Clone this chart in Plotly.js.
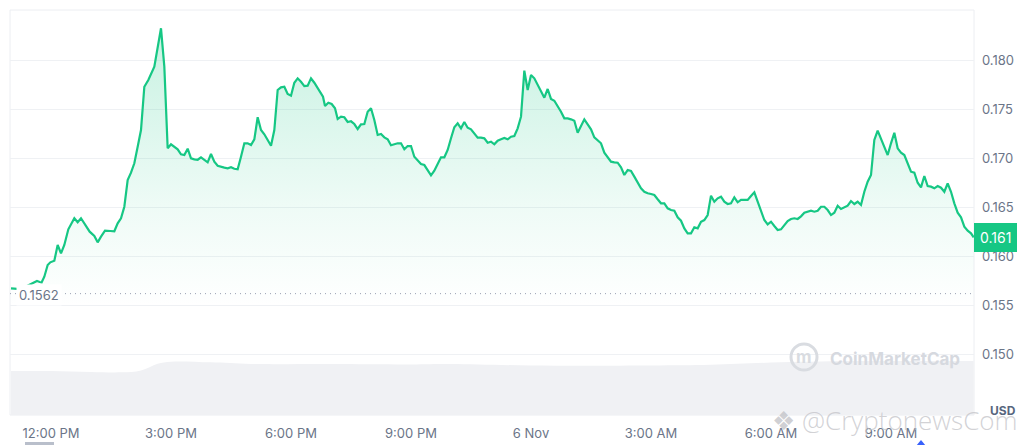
<!DOCTYPE html>
<html>
<head>
<meta charset="utf-8">
<script src="https://cdn.plot.ly/plotly-3.0.1.min.js"></script>
<style>
  html, body { margin: 0; padding: 0; background: #ffffff; }
  #chart { width: 1024px; height: 445px; }
</style>
</head>
<body>
<div id="chart"></div>
<script>
// ---- Data ----
const timesNov5 = ["11:00","11:14","11:24","11:33","11:39","11:43","11:46","11:50","11:55","11:59",
"12:05","12:10","12:15","12:20","12:26","12:35","12:40","12:45","12:51","12:58",
"13:05","13:10","13:15","13:21","13:29","13:35","13:40","13:45","13:50","13:55",
"14:00","14:05","14:10","14:15","14:20","14:26","14:35","14:45","14:50","14:55",
"15:00","15:05","15:10","15:15","15:20","15:25","15:30","15:35","15:40","15:45","15:50","15:55",
"16:00","16:05","16:10","16:15","16:20","16:25","16:30","16:35","16:40","16:45","16:50","16:55",
"17:00","17:05","17:10","17:15","17:20","17:25","17:30","17:35","17:40","17:45","17:50","17:55",
"18:00","18:05","18:10","18:15","18:20","18:25","18:30","18:35","18:40","18:45","18:48","18:51","18:56",
"19:01","19:06","19:10","19:15","19:20","19:25","19:30","19:35","19:40","19:45","19:50","19:55",
"20:00","20:05","20:10","20:15","20:20","20:25","20:30","20:35","20:40","20:45","20:50","20:55",
"21:00","21:05","21:10","21:15","21:20","21:25","21:30","21:35","21:40","21:45","21:50","21:55",
"22:00","22:05","22:10","22:15","22:20","22:25","22:30","22:35","22:40","22:45","22:50","22:55",
"23:00","23:05","23:10","23:15","23:20","23:25","23:30","23:35","23:40","23:45","23:50","23:55"];
const pricesNov5 = [0.15674,0.15667,0.15698,0.15729,0.15749,0.15739,0.15736,0.15793,0.15912,0.15940,
0.15956,0.16117,0.16032,0.16117,0.16277,0.16390,0.16349,0.16390,0.16331,0.16253,
0.16209,0.16144,0.16202,0.16263,0.16260,0.16257,0.16339,0.16390,0.16508,0.16781,
0.16856,0.16952,0.17121,0.17292,0.17734,0.17803,0.17939,0.18331,0.17939,0.17105,
0.17146,0.17121,0.17095,0.17044,0.17036,0.17101,0.17003,0.16992,0.16988,0.17013,0.16985,0.16962,
0.17047,0.16968,0.16927,0.16914,0.16907,0.16901,0.16911,0.16896,0.16890,0.17019,0.17156,0.17156,
0.17139,0.17197,0.17422,0.17292,0.17248,0.17190,0.17131,0.17292,0.17701,0.17728,0.17734,0.17660,
0.17642,0.17775,0.17820,0.17785,0.17741,0.17745,0.17820,0.17775,0.17718,0.17673,0.17632,0.17537,0.17571,
0.17558,0.17514,0.17404,0.17428,0.17422,0.17374,0.17381,0.17353,0.17302,0.17350,0.17353,0.17479,
0.17514,0.17394,0.17241,0.17251,0.17217,0.17197,0.17136,0.17149,0.17156,0.17156,0.17095,0.17128,
0.17128,0.17019,0.16978,0.16944,0.16934,0.16883,0.16829,0.16876,0.16944,0.17013,0.17013,0.17088,
0.17207,0.17320,0.17360,0.17309,0.17374,0.17315,0.17299,0.17251,0.17213,0.17213,0.17207,0.17162,
0.17172,0.17146,0.17183,0.17197,0.17210,0.17197,0.17223,0.17231,0.17309,0.17428,0.17898,0.17701];

const timesNov6 = ["00:00","00:05","00:10","00:15","00:20","00:25","00:30","00:35","00:40","00:45","00:50","00:55",
"01:00","01:05","01:10","01:15","01:20","01:25","01:30","01:35","01:40","01:45","01:50","01:55",
"02:00","02:05","02:10","02:15","02:20","02:25","02:30","02:35","02:40","02:45","02:50","02:55",
"03:00","03:05","03:10","03:15","03:20","03:25","03:30","03:35","03:40","03:45","03:50","03:55",
"04:00","04:05","04:10","04:15","04:20","04:25","04:30","04:35","04:40","04:45","04:50","04:55",
"05:00","05:05","05:10","05:15","05:20","05:25","05:30","05:35","05:40","05:45","05:50","05:55",
"06:00","06:05","06:10","06:15","06:20","06:25","06:30","06:35","06:40","06:45","06:50","06:55",
"07:00","07:05","07:10","07:15","07:20","07:25","07:30","07:35","07:40","07:45","07:50","07:55",
"08:00","08:05","08:10","08:15","08:20","08:25","08:30","08:35","08:40","08:45","08:50","08:55",
"09:00","09:05","09:10","09:15","09:20","09:25","09:30","09:35","09:40","09:45","09:50","09:55",
"10:00","10:05","10:10","10:15","10:20","10:25","10:30","10:35","10:40","10:45","10:50","10:55",
"11:00","11:04"];
const pricesNov6 = [0.17854,0.17820,0.17752,0.17683,0.17622,0.17711,0.17609,0.17591,0.17537,0.17479,0.17411,0.17411,
0.17401,0.17387,0.17264,0.17333,0.17401,0.17350,0.17299,0.17217,0.17183,0.17156,0.17060,0.17013,
0.16968,0.16962,0.16958,0.16911,0.16832,0.16883,0.16873,0.16815,0.16747,0.16696,0.16661,0.16645,
0.16638,0.16628,0.16584,0.16543,0.16543,0.16492,0.16474,0.16467,0.16400,0.16365,0.16287,0.16236,
0.16236,0.16298,0.16287,0.16355,0.16372,0.16423,0.16621,0.16559,0.16594,0.16610,0.16559,0.16536,
0.16543,0.16604,0.16553,0.16577,0.16577,0.16577,0.16618,0.16655,0.16559,0.16457,0.16372,0.16328,
0.16355,0.16311,0.16270,0.16277,0.16314,0.16362,0.16383,0.16390,0.16383,0.16410,0.16447,0.16457,
0.16467,0.16457,0.16467,0.16508,0.16508,0.16474,0.16423,0.16447,0.16518,0.16485,0.16498,0.16518,
0.16566,0.16536,0.16559,0.16526,0.16661,0.16764,0.16832,0.17190,0.17285,0.17207,0.17115,0.17036,
0.17156,0.17264,0.17105,0.17060,0.17036,0.16944,0.16866,0.16856,0.16753,0.16706,0.16822,0.16720,
0.16713,0.16696,0.16720,0.16702,0.16661,0.16747,0.16661,0.16543,0.16447,0.16400,0.16304,0.16263,
0.16236,0.16195];

const volumeTimes = ["2024-11-05 11:00","2024-11-05 12:00","2024-11-05 13:00","2024-11-05 13:45","2024-11-05 14:15",
"2024-11-05 14:40","2024-11-05 15:00","2024-11-05 16:00","2024-11-05 17:00","2024-11-05 19:00","2024-11-05 21:00",
"2024-11-05 22:00","2024-11-06 00:00","2024-11-06 03:00","2024-11-06 04:30","2024-11-06 06:00","2024-11-06 08:00",
"2024-11-06 10:00","2024-11-06 11:04"];
const volumeValues = [32.6,32.6,31.9,31.6,33.0,38.0,39.5,39.0,37.8,37.8,37.5,37.8,36.7,36.7,37.2,38.8,40.0,40.0,40.0];

const openPrice = 0.1562;
const yTickVals = [0.150,0.155,0.160,0.165,0.170,0.175,0.180];
const xTickVals = ["2024-11-05 12:00","2024-11-05 15:00","2024-11-05 18:00","2024-11-05 21:00",
                   "2024-11-06 00:00","2024-11-06 03:00","2024-11-06 06:00","2024-11-06 09:00"];
const xTickText = ["12:00 PM","3:00 PM","6:00 PM","9:00 PM","6 Nov","3:00 AM","6:00 AM","9:00 AM"];

// ---- Build series ----
const times = timesNov5.map(t => "2024-11-05 " + t).concat(timesNov6.map(t => "2024-11-06 " + t));
const prices = pricesNov5.concat(pricesNov6);
const lastPrice = prices[prices.length - 1];

// ---- Layout helpers (pixel -> paper) ----
const L = 10, R = 974, T = 10, B = 415;
const px = x => (x - L) / (R - L);
const py = y => (B - y) / (B - T);

const GREEN = "#16c784";
const TXT = "#6b7588";
const FONT = "Inter, 'Noto Sans', sans-serif";

const traces = [
  {
    x: volumeTimes, y: volumeValues, yaxis: "y2", type: "scatter", mode: "lines",
    line: { width: 0, color: "#eff0f3", shape: "spline" },
    fill: "tozeroy", fillcolor: "#f0f1f4", hoverinfo: "skip", showlegend: false
  },
  {
    x: times, y: prices, type: "scatter", mode: "lines",
    line: { color: GREEN, width: 2.2 },
    fill: "tozeroy",
    fillgradient: {
      type: "vertical",
      start: 0.1550, stop: 0.1835,
      colorscale: [[0, "rgba(22,199,132,0)"], [0.35, "rgba(22,199,132,0.07)"], [1, "rgba(22,199,132,0.24)"]]
    },
    hoverinfo: "skip", showlegend: false
  }
];

const layout = {
  width: 1024, height: 445,
  margin: { l: L, r: 1024 - R, t: T, b: 445 - B, pad: 0 },
  paper_bgcolor: "#ffffff", plot_bgcolor: "#ffffff",
  showlegend: false, hovermode: false,
  font: { family: FONT, color: TXT, size: 13 },
  xaxis: {
    type: "date",
    range: ["2024-11-05 10:58:30", "2024-11-06 11:04:30"],
    tickvals: xTickVals, ticktext: xTickText,
    showgrid: false, zeroline: false, showline: false, ticks: "",
    tickfont: { family: FONT, size: 13, color: TXT },
    ticklabelstandoff: 9, fixedrange: true
  },
  yaxis: {
    side: "right",
    range: [0.14380, 0.18518],
    tickvals: yTickVals, tickformat: ".3f",
    showgrid: true, gridcolor: "#eff1f4", gridwidth: 1,
    zeroline: false, showline: false, ticks: "",
    tickfont: { family: FONT, size: 13, color: TXT },
    ticklabelstandoff: 7, fixedrange: true
  },
  yaxis2: {
    overlaying: "y", range: [0, 300], visible: false, fixedrange: true
  },
  shapes: [
    { type: "rect", xref: "paper", yref: "paper", x0: 0, x1: 1, y0: 0, y1: 1,
      line: { color: "#eceef2", width: 1 }, layer: "below" },
    { type: "line", xref: "paper", yref: "y", x0: 0, x1: 1, y0: openPrice, y1: openPrice,
      line: { color: "#98a1b3", width: 1, dash: "1px,4px" } },
    { type: "circle", xref: "paper", yref: "paper",
      x0: px(791), x1: px(817), y0: py(370), y1: py(344),
      line: { color: "#d9dce1", width: 3 } },
    { type: "rect", xref: "paper", yref: "paper", x0: px(25), x1: px(54), y0: py(446), y1: py(442),
      line: { width: 0 }, fillcolor: "#b9bfcb" },
    { type: "path", xref: "paper", yref: "paper",
      path: `M ${px(916)} ${py(446)} L ${px(921)} ${py(440)} L ${px(926)} ${py(446)} Z`,
      line: { width: 0 }, fillcolor: "#3861fb" }
  ],
  annotations: [
    { xref: "paper", yref: "y", x: px(16), y: openPrice, xanchor: "left", yanchor: "middle",
      text: openPrice.toFixed(4), showarrow: false, bgcolor: "#ffffff", borderpad: 2,
      font: { family: FONT, size: 13, color: TXT }, yshift: -1 },
    { xref: "paper", yref: "y", x: 1, y: lastPrice, xanchor: "left", yanchor: "middle",
      text: (Math.floor(lastPrice * 1000) / 1000).toFixed(3), showarrow: false,
      bgcolor: GREEN, bordercolor: GREEN, borderwidth: 1, borderpad: 5,
      font: { family: FONT, size: 14, color: "#ffffff" } },
    { xref: "paper", yref: "paper", x: px(804), y: py(357), xanchor: "center", yanchor: "middle",
      text: "m", showarrow: false, font: { family: FONT, size: 17, color: "#d9dce1", weight: 700 } },
    { xref: "paper", yref: "paper", x: px(828), y: py(359), xanchor: "left", yanchor: "middle",
      text: "CoinMarketCap", showarrow: false,
      font: { family: FONT, size: 17, color: "#d6d9df", weight: 700 } },
    { xref: "paper", yref: "paper", x: px(1003), y: py(410), xanchor: "center", yanchor: "middle",
      text: "USD", showarrow: false, font: { family: FONT, size: 12, color: "#58667e", weight: 700 } },
    { xref: "paper", yref: "paper", x: px(783), y: py(421), xanchor: "center", yanchor: "middle",
      text: "❖", showarrow: false, font: { family: "DejaVu Sans", size: 26, color: "rgba(195,195,200,0.8)" } },
    { xref: "paper", yref: "paper", x: px(800), y: py(420), xanchor: "left", yanchor: "middle",
      text: "@CryptonewsCom", showarrow: false,
      font: { family: "'Open Sans', sans-serif", size: 26, color: "rgba(195,195,200,0.75)", weight: 300 } }
  ]
};

Plotly.newPlot("chart", traces, layout, { displayModeBar: false, staticPlot: true });
</script>
</body>
</html>
